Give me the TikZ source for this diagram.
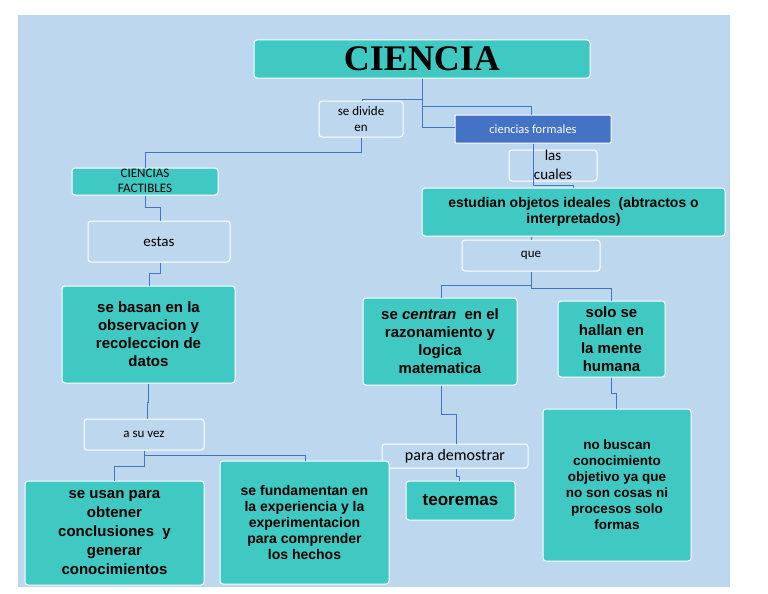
\documentclass[tikz,border=0pt]{standalone}
\usepackage{fontspec}
\setmainfont{Liberation Sans}
\newfontfamily\calf{Carlito}
\newfontfamily\titf{Liberation Serif}
\definecolor{bg}{HTML}{BDD7EE}
\definecolor{teal}{HTML}{40C9C3}
\definecolor{lnk}{HTML}{4472C4}
\begin{document}
\begin{tikzpicture}[x=1pt,y=-1pt,
 box/.style={draw=white,line width=1pt,rounded corners=3pt,inner sep=1pt,align=center},
 tb/.style={box,fill=teal,font=\bfseries\fontsize{15}{18}\selectfont},
 lb/.style={box,fill=bg,font=\calf\fontsize{13}{16}\selectfont},
 ln/.style={draw=lnk,line width=0.7pt}]
\useasboundingbox (0,0) rectangle (768,594);
\fill[bg] (18,15) rectangle (730,587);
\newcommand\bx[6]{\node[#1,minimum width=#4-#2,minimum height=#5-#3] (#6) at ({(#2+#4)/2},{(#3+#5)/2})}
\bx{tb}{254}{40}{590}{78}{ci}{\titf\bfseries\fontsize{36}{40}\selectfont CIENCIA};
\bx{lb}{319}{101}{403}{137}{sd}{se divide\\en};
\bx{box,fill=lnk,rounded corners=1pt,text=white,font=\calf\fontsize{12.5}{14}\selectfont}{455}{115}{611}{143}{cf}{ciencias formales};
\bx{lb}{509}{150}{597}{181}{lc}{};
\node[font=\calf\fontsize{15}{19}\selectfont,align=center] at (553,165) {las\\cuales};
\bx{box,fill=teal}{72}{168}{218}{195}{fa}{};
\node[font=\calf\fontsize{13}{15}\selectfont,align=center] at (145,181) {CIENCIAS\\FACTIBLES};
\bx{tb,font=\bfseries\fontsize{14}{16}\selectfont}{422}{188}{725}{236}{es}{estudian objetos ideales\ \ (abtractos o\\interpretados)};
\bx{lb,font=\calf\fontsize{15}{18}\selectfont}{88}{221}{230}{262}{et}{estas};
\bx{lb}{462}{240}{600}{271}{qu}{que};
\bx{tb}{62}{286}{235}{383}{sb}{se basan en la\\observacion y\\recoleccion de\\datos};
\bx{tb}{363}{298}{517}{385}{sc}{se \textit{centran}\ \ en el\\razonamiento y\\logica\\matematica};
\bx{tb}{558}{301}{665}{377}{so}{solo se\\hallan en\\la mente\\humana};
\bx{lb}{84}{419}{204}{450}{av}{a su vez};
\bx{lb,font=\calf\fontsize{16}{18}\selectfont}{382}{444}{528}{468}{pd}{para demostrar};
\bx{tb,font=\bfseries\fontsize{17}{20}\selectfont}{406}{481}{515}{520}{te}{teoremas};
\bx{tb,font=\bfseries\fontsize{13.5}{16}\selectfont}{543}{409}{691}{561}{nb}{no buscan\\conocimiento\\objetivo ya que\\no son cosas ni\\procesos solo\\formas};
\bx{tb,font=\bfseries\fontsize{15}{19}\selectfont}{25}{481}{204}{585}{su}{se usan para\\obtener\\conclusiones\ \ y\\generar\\conocimientos};
\bx{tb,font=\bfseries\fontsize{14}{16}\selectfont}{220}{461}{389}{584}{sf}{se fundamentan en\\la experiencia y la\\experimentacion\\para comprender\\los hechos};
% connectors
\draw[ln] (ci.south -| 422,0) |- (362,99) -- (sd.north -| 362,0);
\draw[ln] (422,99) |- (531,106) -- (cf.north -| 531,0);
\draw[ln] (422,106) |- (cf.west |- 0,127);
\draw[ln] (sd.south) |- (145,152) -- (fa.north);
\draw[ln] (fa.south) |- (160,207) -- (et.north -| 160,0);
\draw[ln] (et.south -| 160,0) |- (149,273) -- (sb.north -| 149,0);
\draw[ln] (cf.south) |- (573,185) -- (es.north -| 573,0);
\draw[ln] (es.south -| 531,0) -- (qu.north -| 531,0);
\draw[ln] (qu.south -| 531,0) |- (441,285) -- (sc.north -| 441,0);
\draw[ln] (531,285) |- (611,288) -- (so.north -| 611,0);
\draw[ln] (sb.south -| 148,0) |- (147,402) -- (av.north -| 147,0);
\draw[ln] (av.south -| 144,0) |- (114,466) -- (su.north -| 114,0);
\draw[ln] (144,455) -| (sf.north -| 305,0);
\draw[ln] (sc.south -| 441,0) |- (456,414) -- (pd.north -| 456,0);
\draw[ln] (pd.south -| 456,0) |- (459,476) -- (te.north -| 459,0);
\draw[ln] (so.south -| 611,0) |- (616,393) -- (nb.north -| 616,0);
\end{tikzpicture}
\end{document}
